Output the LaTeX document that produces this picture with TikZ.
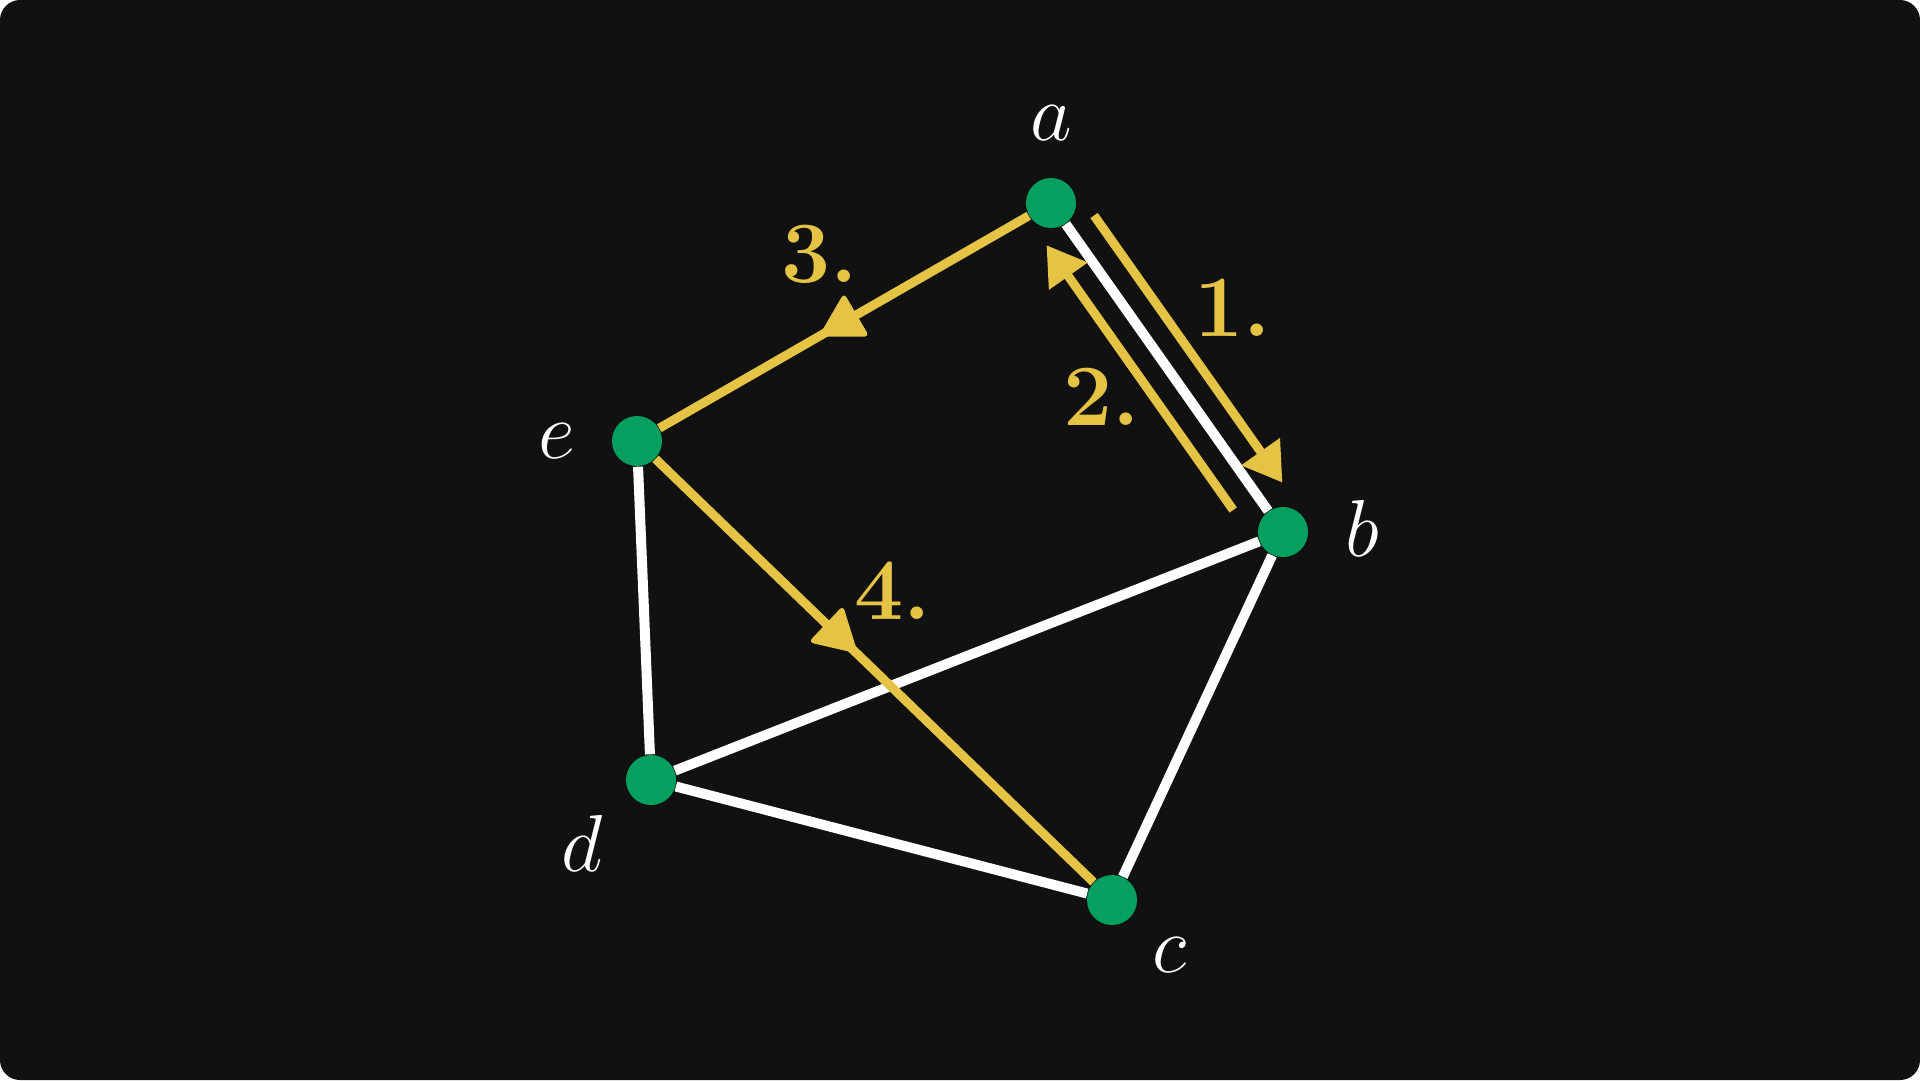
\documentclass[tikz,border=0pt]{standalone}
\usepackage{fix-cm}
\usepackage{fontspec}
\usetikzlibrary{arrows.meta,calc}
\definecolor{bgdark}{HTML}{111111}
\definecolor{vgreen}{HTML}{05A060}
\definecolor{wyellow}{HTML}{E5C345}
\begin{document}
\begin{tikzpicture}[x=0.1mm, y=-0.1mm, >={Triangle[length=3.8mm, width=4.5mm]},
  vertex/.style={circle, fill=vgreen, minimum size=5mm, inner sep=0pt},
  vname/.style={text=white, inner sep=0pt, font=\fontsize{23}{28}\selectfont},
  stepno/.style={text=wyellow, inner sep=0pt, font=\fontsize{24.88}{30}\selectfont\bfseries},
  edge/.style={white, line width=1mm},
  walk/.style={wyellow, line width=0.9mm},
  walktip/.style={fill=wyellow, draw=wyellow, line width=0.5mm, line join=round}]
\useasboundingbox (0,0) rectangle (1920,1080);
\fill[white] (0,0) rectangle (1920,1080);
\fill[bgdark, rounded corners=2mm] (0,0) rectangle (1920,1080);

% the graph
\node[vertex] (a) at (1051,203) {};
\node[vertex] (b) at (1283,532) {};
\node[vertex] (c) at (1112,900) {};
\node[vertex] (d) at (651,780) {};
\node[vertex] (e) at (637,441) {};

\path (a) ++(0,-80) node[vname] (la) {$a$};
\path (b) ++(79,-4) node[vname] (lb) {$b$};
\path (c) ++(58,55) node[vname] (lc) {$c$};
\path (d) ++(-69,63) node[vname] (ld) {$d$};
\path (e) ++(-80,0) node[vname] (le) {$e$};

\foreach \u/\v in {a/b, b/c, b/d, c/d, d/e}
  \draw[edge] (\u) -- (\v);

% the walk, step by step
\coordinate (s1) at ($(a)!0.087!(b)!2.8mm!90:(b)$);
\coordinate (t1) at ($(a)!0.899!(b)!2.8mm!90:(b)$);
\coordinate (s2) at ($(a)!0.884!(b)!2.8mm!-90:(b)$);
\coordinate (t2) at ($(a)!0.079!(b)!2.8mm!-90:(b)$);
\draw[walk, ->] (s1) -- (t1);
\draw[walk, ->] (s2) -- (t2);

\draw[walk] (a) -- (e);
\draw[walk] (e) -- (c);
\coordinate (m3) at ($(a)!0.5!(e)$);
\coordinate (m4) at ($(e)!0.42!(c)$);
\filldraw[walktip, shift={(m3)}] (0,-24) -- (-21,12) -- (21,12) -- cycle;
\filldraw[walktip, shift={(m4)}, rotate=-13] (0,-24) -- (-21,12) -- (21,12) -- cycle;

\node[stepno] (n1) at (1233,308) {1.};
\node[stepno] (n2) at (1102,397) {2.};
\node[stepno] (n3) at (820,254) {3.};
\node[stepno] (n4) at (893,591) {4.};
\end{tikzpicture}
\end{document}
